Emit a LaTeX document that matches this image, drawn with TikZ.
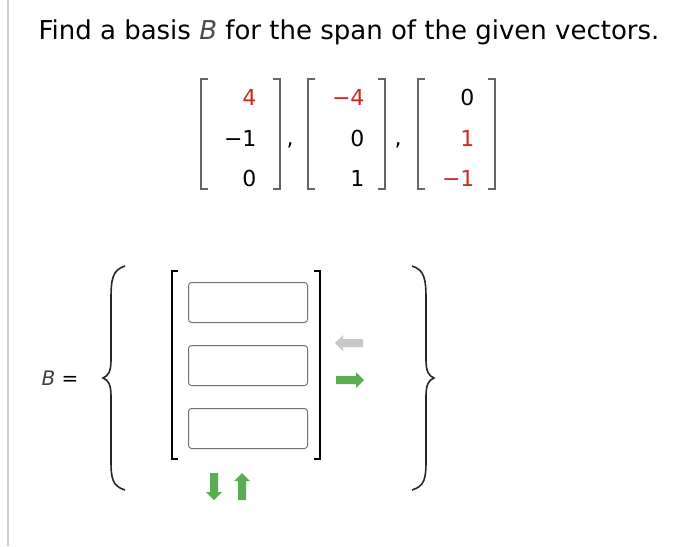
\documentclass[tikz,border=0pt]{standalone}
\usepackage{fontspec}
\setmainfont{DejaVu Sans}
\begin{document}
\begin{tikzpicture}[x=1pt,y=-1pt,
 num/.style={anchor=east,font=\fontsize{22}{24}\selectfont},
 red/.style={text=redc},
 brk/.style={draw=black!60,line width=1.6pt},
 ibox/.style={draw=black!55,line width=1pt,rounded corners=3pt,minimum width=119pt,minimum height=40pt,anchor=north west},
 brace/.style={draw=black!85,line width=1.6pt},
]
\definecolor{redc}{HTML}{CC2A1E}
\definecolor{grn}{HTML}{5BAE4F}
\useasboundingbox (0,0) rectangle (698,546);
\draw[black!20,line width=2pt] (8,0) -- (8,546);
\node[anchor=west,font=\fontsize{26}{30}\selectfont] (title) at (35,32) {Find a basis \textit{\color{black!70}B} for the span of the given vectors.};
% brackets
\foreach \l/\r in {201/280,308/385,418/495}{
 \draw[brk] (\l+7,79) -- (\l,79) -- (\l,189) -- (\l+7,189);
 \draw[brk] (\r-7,79) -- (\r,79) -- (\r,189) -- (\r-7,189);
}
\node[num,red] (a1) at (260,97) {4};
\node[num] (a2) at (260,138) {−1};
\node[num] (a3) at (260,178) {0};
\node[num,red] (b1) at (368,97) {−4};
\node[num] (b2) at (368,138) {0};
\node[num] (b3) at (368,178) {1};
\node[num] (c1) at (478,97) {0};
\node[num,red] (c2) at (478,138) {1};
\node[num,red] (c3) at (478,178) {−1};
\node[font=\fontsize{22}{24}\selectfont] (cm1) at (290,145) {,};
\node[font=\fontsize{22}{24}\selectfont] (cm2) at (398,145) {,};
% B =
\node[anchor=west,font=\fontsize{20}{22}\selectfont] (beq) at (38,378) {\textit{\color{black!75}B} =};
% braces
\draw[brace] (125,266) .. controls (112,270) and (111,280) .. (111,300) -- (111,360) .. controls (111,372) and (108,376) .. (103,378)
 .. controls (108,380) and (111,384) .. (111,396) -- (111,460) .. controls (111,478) and (112,486) .. (125,490);
\draw[brace] (412,266) .. controls (425,270) and (426,280) .. (426,300) -- (426,360) .. controls (426,372) and (429,376) .. (434,378)
 .. controls (429,380) and (426,384) .. (426,396) -- (426,460) .. controls (426,478) and (425,486) .. (412,490);
\draw[black,line width=1.2pt] (178,271) -- (172,271) -- (172,459) -- (178,459);
\draw[black,line width=1.2pt] (314,271) -- (320,271) -- (320,459) -- (314,459);
\node[ibox] (i1) at (188,282) {};
\node[ibox] (i2) at (188,345) {};
\node[ibox] (i3) at (188,408) {};
% arrows
\fill[black!22] (335,343) -- (343,335) -- (343,339) -- (363,339) -- (363,347) -- (343,347) -- (343,351) -- cycle;
\fill[grn] (364,380) -- (356,372) -- (356,376) -- (336,376) -- (336,384) -- (356,384) -- (356,388) -- cycle;
\fill[grn] (214,500) -- (206,492) -- (210,492) -- (210,473) -- (218,473) -- (218,492) -- (222,492) -- cycle;
\fill[grn] (242,473) -- (234,481) -- (238,481) -- (238,500) -- (246,500) -- (246,481) -- (250,481) -- cycle;
\end{tikzpicture}
\end{document}
